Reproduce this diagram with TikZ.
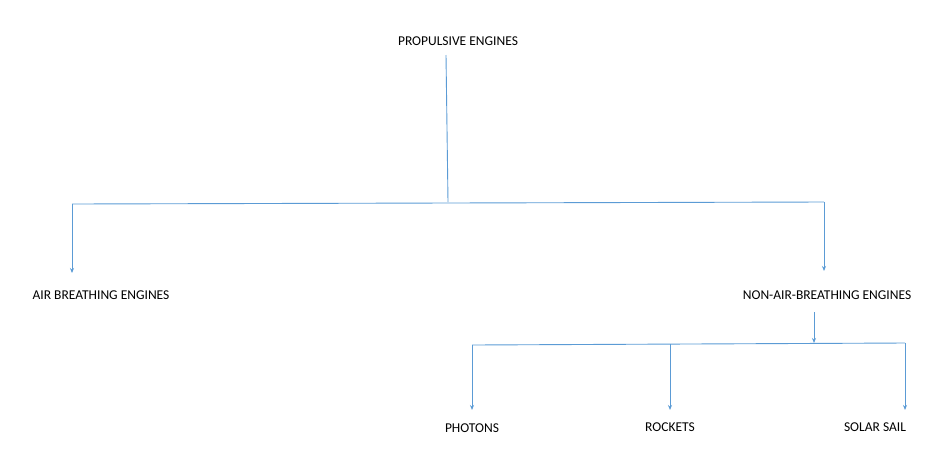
\documentclass[tikz,border=0pt]{standalone}
\usepackage{fontspec}
\setmainfont{Carlito}
\usetikzlibrary{arrows.meta}
\begin{document}
\begin{tikzpicture}[x=1pt,y=-1pt,
  lbl/.style={font=\fontsize{13.5}{15}\selectfont, inner sep=0pt},
  ln/.style={draw={rgb,255:red,91;green,155;blue,213}, line width=0.9pt},
  arr/.style={ln,-{Stealth[length=5pt,width=4pt]}}]
\useasboundingbox (0,0) rectangle (944,475);
\node[lbl] (pe) at (458,41) {PROPULSIVE ENGINES};
\node[lbl] (ab) at (101,295) {AIR BREATHING ENGINES};
\node[lbl] (nab) at (827,295) {NON-AIR-BREATHING ENGINES};
\node[lbl] (ph) at (472,428) {PHOTONS};
\node[lbl] (ro) at (670,427) {ROCKETS};
\node[lbl] (ss) at (875,427) {SOLAR SAIL};
\coordinate (t0) at (446,55);
\coordinate (t1) at (448,202);
\coordinate (l0) at (72,204);
\coordinate (r0) at (824,202);
\coordinate (l1) at (72,273);
\coordinate (r1) at (824,271);
\draw[ln] (t0) -- (t1);
\draw[ln] (l0) -- (r0);
\draw[arr] (l0) -- (l1);
\draw[arr] (r0) -- (r1);
\coordinate (n0) at (814,312);
\coordinate (n1) at (814,343);
\coordinate (h0) at (472,345);
\coordinate (h1) at (670,344);
\coordinate (h2) at (905,343);
\draw[arr] (n0) -- (n1);
\draw[ln] (h0) -- (h2);
\draw[arr] (h0) -- (472,410);
\draw[arr] (h1) -- (670,410);
\draw[arr] (h2) -- (905,410);
\end{tikzpicture}
\end{document}
